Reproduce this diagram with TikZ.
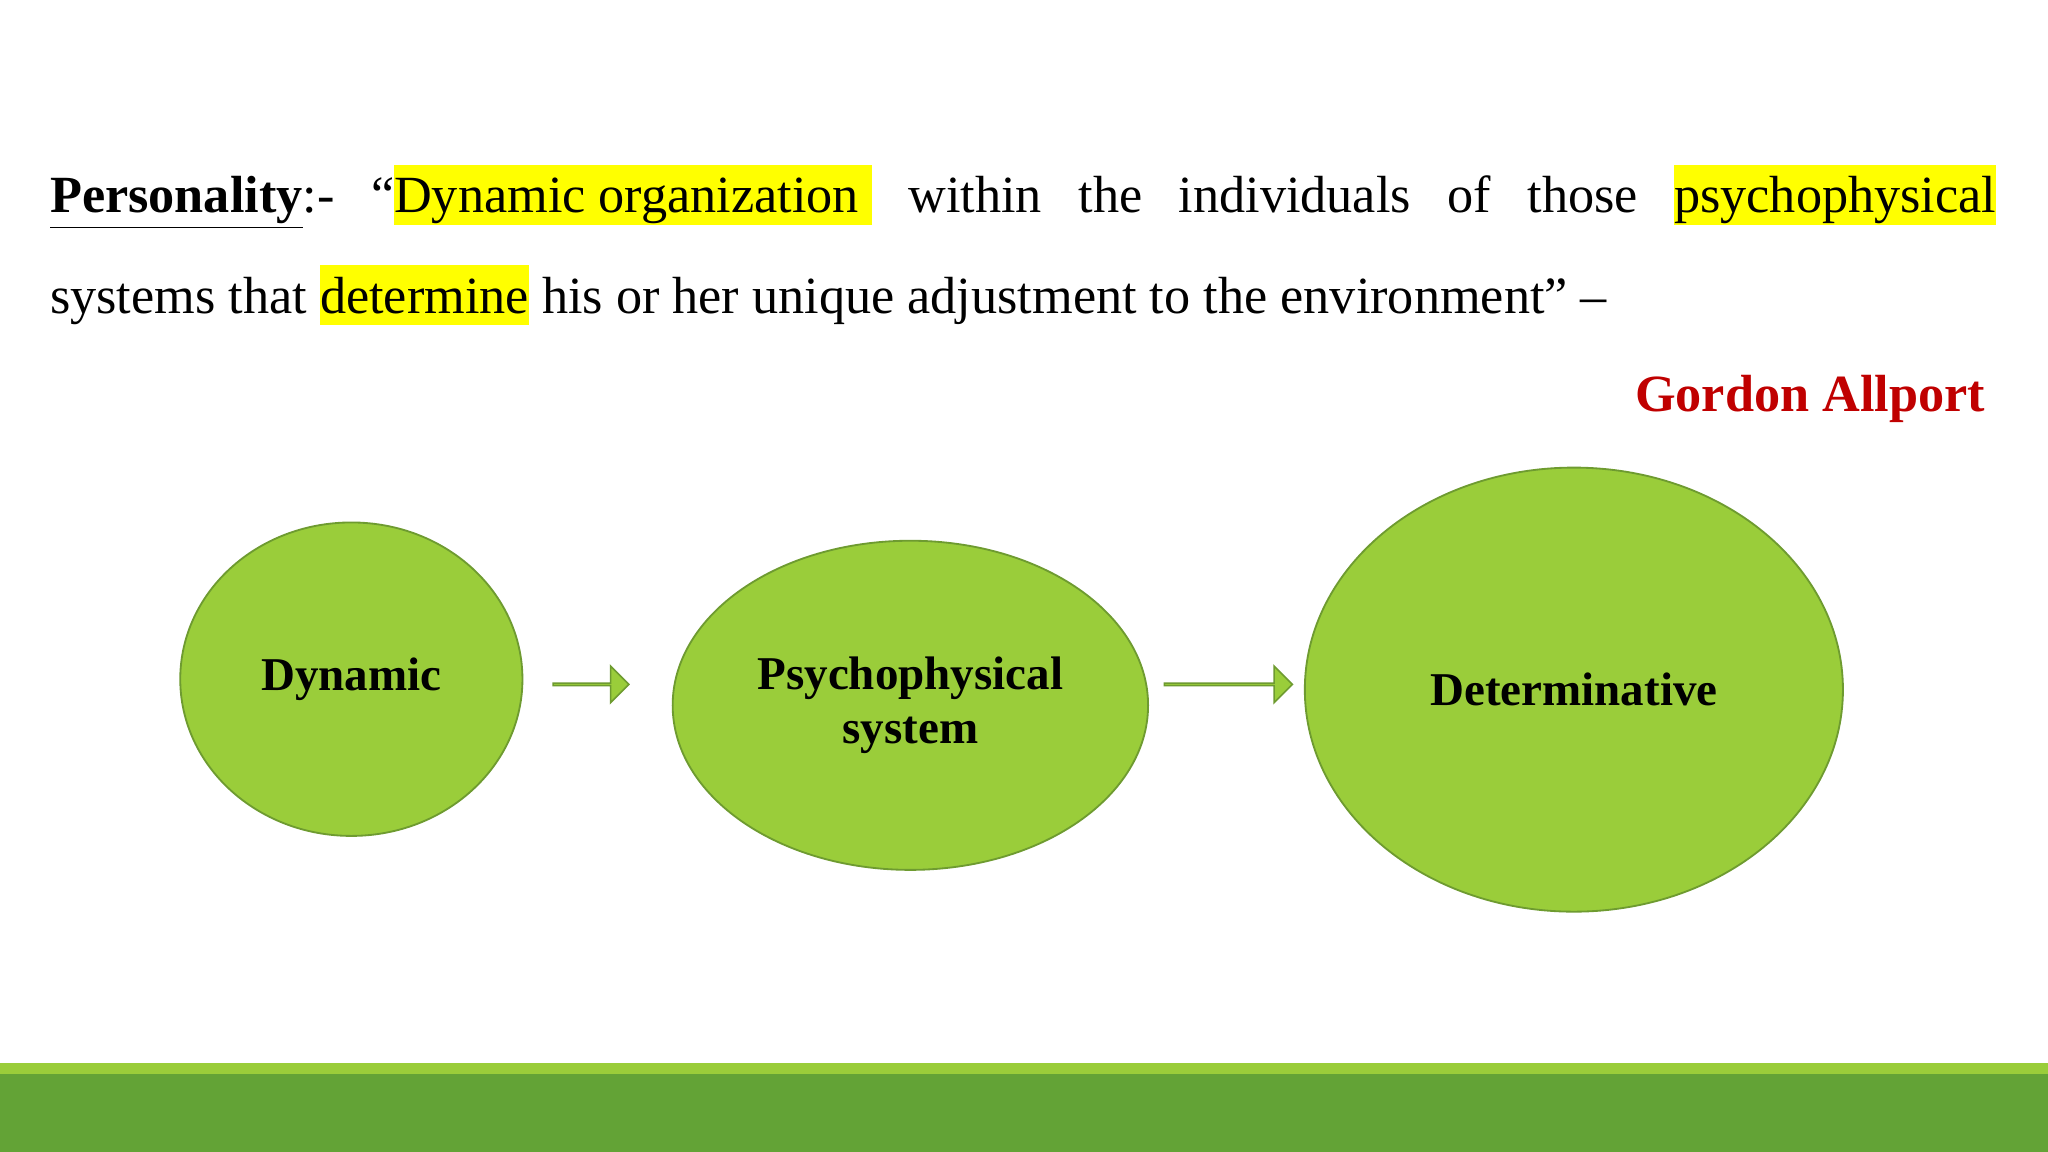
\documentclass[tikz,border=0pt]{standalone}
\usepackage{fontspec}
\setmainfont{Liberation Serif}
\usetikzlibrary{shapes.arrows,shapes.geometric}
\definecolor{hl}{HTML}{FFFF00}
\definecolor{lg}{HTML}{9ACD3A}
\definecolor{dg}{HTML}{63A336}
\definecolor{eb}{HTML}{6E9B30}
\definecolor{red}{HTML}{C00000}
\newcommand{\hlt}[1]{{\fboxsep=0pt\colorbox{hl}{\rule[-4.5pt]{0pt}{23pt}#1}}}
\tikzset{
  blob/.style={ellipse, fill=lg, draw=eb, line width=0.7pt, font=\fontsize{18}{21}\selectfont\bfseries, align=center, inner sep=0pt},
  barrow/.style={single arrow, fill=lg, draw=eb, line width=0.6pt, minimum height=#1, single arrow head extend=4pt, minimum width=14pt, inner sep=0pt},
  body/.style={anchor=base west, inner sep=0pt, font=\fontsize{20}{24}\selectfont}
}
\begin{document}
\begin{tikzpicture}[x=0.5pt,y=-0.5pt]
\useasboundingbox (0,0) rectangle (1568,882);
\fill[white] (0,0) rectangle (1568,882);
\fill[lg] (0,814) rectangle (1568,822);
\fill[dg] (0,822) rectangle (1568,882);
\node[body] (l1) at (38,163) {\makebox[745pt][s]{\textbf{\underline{Personality}}:- “\hlt{Dynamic organization } within the individuals of those \hlt{psychophysical}}};
\node[body] (l2) at (38,240) {systems that \hlt{determine} his or her unique adjustment to the environment” –};
\node[body, anchor=base east, text=red, font=\fontsize{20}{24}\selectfont\bfseries] (ga) at (1520,315) {Gordon Allport};
\node[blob, minimum width=131pt, minimum height=120pt] (d) at (269,520) {Dynamic};
\node[blob, minimum width=182pt, minimum height=126pt] (p) at (697,540) {Psychophysical\\system};
\node[blob, minimum width=206pt, minimum height=170pt] (t) at (1205,528) {Determinative};
\node[barrow=29pt] (a1) at (452,524) {};
\node[barrow=49pt] (a2) at (940,524) {};
\end{tikzpicture}
\end{document}
